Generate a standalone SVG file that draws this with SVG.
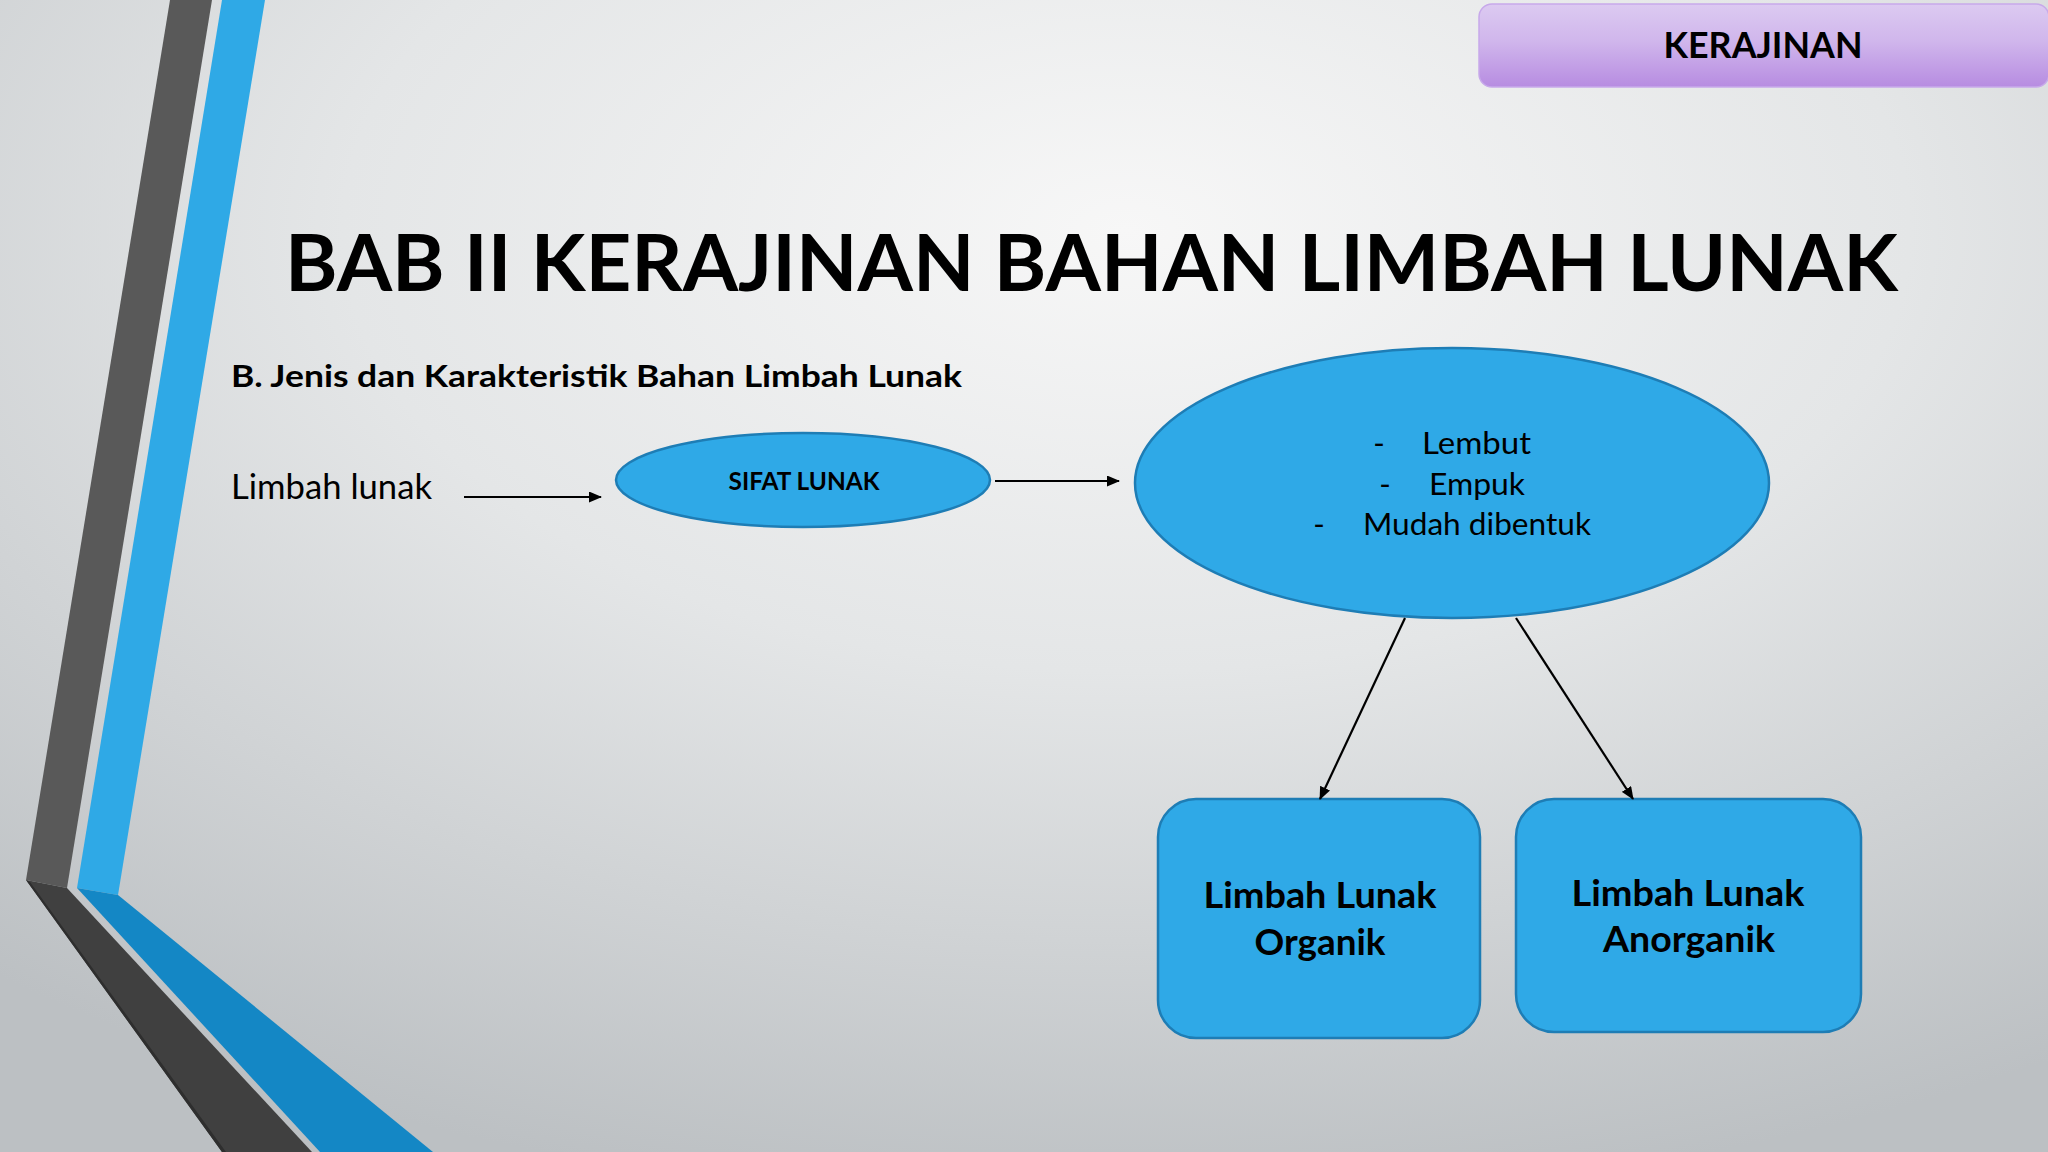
<svg xmlns="http://www.w3.org/2000/svg" width="2048" height="1152" viewBox="0 0 2048 1152">
  <defs>
    <radialGradient id="bg" cx="0.55" cy="0.2" r="0.85" gradientUnits="objectBoundingBox">
      <stop offset="0" stop-color="#f7f7f7"/>
      <stop offset="0.45" stop-color="#e4e6e7"/>
      <stop offset="1" stop-color="#bcc0c3"/>
    </radialGradient>
    <linearGradient id="tab" x1="0" y1="0" x2="0" y2="1">
      <stop offset="0" stop-color="#dccaf1"/>
      <stop offset="0.45" stop-color="#d0b6ec"/>
      <stop offset="1" stop-color="#b78ce1"/>
    </linearGradient>
    <marker id="arrow" markerUnits="userSpaceOnUse" markerWidth="13" markerHeight="11" refX="12" refY="5.5" orient="auto">
      <path d="M0,0 L13,5.5 L0,11 z" fill="#000"/>
    </marker>
    <style>
      .node { fill: #2fa9e7; stroke: #1e7db5; stroke-width: 2.5; }
      .conn { stroke: #000; stroke-width: 2.2; fill: none; marker-end: url(#arrow); }
      .t { font-family: Lato, "Open Sans", "Liberation Sans", sans-serif; fill: #000; }
      .b { font-weight: 700; }
      .m { text-anchor: middle; }
    </style>
  </defs>

  <rect x="0" y="0" width="2048" height="1152" fill="url(#bg)"/>

  <!-- decorative bands -->
  <g id="bands">
    <polygon points="170,0 212,0 67,888 26,880" fill="#595959"/>
    <polygon points="26,880 67,888 312,1152 222,1152" fill="#404040"/>
    <polygon points="26,880 30,882 226,1152 222,1152" fill="#2e2e2e"/>
    <polygon points="222,0 265,0 118,895 77,888" fill="#2fa9e6"/>
    <polygon points="77,888 118,895 433,1152 320,1152" fill="#1487c5"/>
  </g>

  <!-- header tab -->
  <g id="tab-kerajinan">
    <rect x="1479" y="4" width="570" height="83" rx="13" fill="url(#tab)" stroke="#c7a9ea" stroke-width="1.5"/>
    <text class="t b m" x="1763" y="58" font-size="36" textLength="199" lengthAdjust="spacingAndGlyphs">KERAJINAN</text>
  </g>

  <!-- titles -->
  <text class="t b" x="285" y="291" font-size="78" textLength="1613" lengthAdjust="spacingAndGlyphs">BAB II KERAJINAN BAHAN LIMBAH LUNAK</text>
  <text class="t b" x="231" y="387" font-size="30" textLength="731" lengthAdjust="spacingAndGlyphs">B. Jenis dan Karakteristik Bahan Limbah Lunak</text>

  <!-- nodes -->
  <g id="limbah-lunak">
    <text class="t" x="231" y="499" font-size="35" textLength="201" lengthAdjust="spacingAndGlyphs">Limbah lunak</text>
  </g>

  <g id="sifat-lunak">
    <ellipse class="node" cx="803" cy="480" rx="187" ry="47"/>
    <text class="t b m" x="804" y="490" font-size="24" textLength="151" lengthAdjust="spacingAndGlyphs">SIFAT LUNAK</text>
  </g>

  <g id="karakteristik">
    <ellipse class="node" cx="1452" cy="483" rx="317" ry="135"/>
    <text class="t m" x="1379" y="454" font-size="31">-</text>
    <text class="t" x="1422" y="454" font-size="31" textLength="109" lengthAdjust="spacingAndGlyphs">Lembut</text>
    <text class="t m" x="1385" y="495" font-size="31">-</text>
    <text class="t" x="1429" y="495" font-size="31" textLength="96" lengthAdjust="spacingAndGlyphs">Empuk</text>
    <text class="t m" x="1319" y="535" font-size="31">-</text>
    <text class="t" x="1363" y="535" font-size="31" textLength="228" lengthAdjust="spacingAndGlyphs">Mudah dibentuk</text>
  </g>

  <g id="organik">
    <rect class="node" x="1158" y="799" width="322" height="239" rx="38"/>
    <text class="t b m" x="1320" y="908" font-size="36" textLength="233" lengthAdjust="spacingAndGlyphs">Limbah Lunak</text>
    <text class="t b m" x="1320" y="955" font-size="36" textLength="131" lengthAdjust="spacingAndGlyphs">Organik</text>
  </g>

  <g id="anorganik">
    <rect class="node" x="1516" y="799" width="345" height="233" rx="38"/>
    <text class="t b m" x="1688" y="906" font-size="36" textLength="233" lengthAdjust="spacingAndGlyphs">Limbah Lunak</text>
    <text class="t b m" x="1689" y="952" font-size="36" textLength="172" lengthAdjust="spacingAndGlyphs">Anorganik</text>
  </g>

  <!-- connectors -->
  <g id="connectors">
    <line class="conn" x1="464" y1="497" x2="601" y2="497"/>
    <line class="conn" x1="995" y1="481" x2="1119" y2="481"/>
    <line class="conn" x1="1405" y1="618" x2="1320" y2="799"/>
    <line class="conn" x1="1516" y1="618" x2="1633" y2="799"/>
  </g>
</svg>
